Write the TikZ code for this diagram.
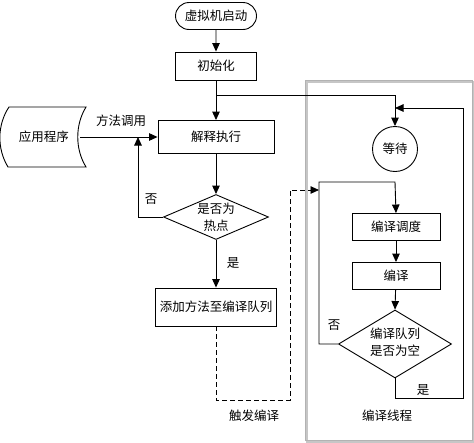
\documentclass[tikz,border=0pt]{standalone}
\usepackage{fontspec}
\newfontfamily\cjk{Noto Sans CJK SC}
\usetikzlibrary{arrows.meta,shapes.geometric,shapes.misc}
\begin{document}
\begin{tikzpicture}[x=1pt,y=-1pt,
  every node/.style={font=\cjk\fontsize{12.5}{17}\selectfont, inner sep=0pt},
  ln/.style={line width=0.9pt, black},
  arr/.style={ln, -{Triangle[length=8.5pt,width=7.5pt]}},
  boxx/.style={draw, ln, rectangle, minimum height=28pt, align=center}]
\useasboundingbox (0,0) rectangle (474,442);
% thread frame
\draw[gray!45, line width=2pt] (307,82) rectangle (474,442);
\draw[gray!60, line width=0.9pt] (305,80) rectangle (472,440);
% nodes
\node[draw, ln, rounded rectangle, minimum width=81pt, minimum height=27pt] (start) at (216,16) {虚拟机启动};
\node[boxx, minimum width=81pt] (init) at (216,66) {初始化};
\node[boxx, minimum width=116pt, minimum height=33pt] (interp) at (216,137) {解释执行};
\node[minimum width=72pt, minimum height=60pt] (app) at (44,137) {应用程序};
\draw[ln] (9,107) -- (86,107) .. controls (75,125) and (75,149) .. (86,167) -- (8,167) .. controls (-3,149) and (-3,125) .. (9,107) -- cycle;
\node[draw, ln, minimum width=105pt, minimum height=45pt, shape=diamond, shape aspect=2.33] (hot) at (216,217) {};
\node[align=center] (hottxt) at (216,217) {是否为\\热点};
\node[boxx, minimum width=121pt, minimum height=38pt] (add) at (216,307) {添加方法至编译队列};
\node[draw, ln, circle, minimum size=45pt] (wait) at (395,149) {等待};
\node[boxx, minimum width=88pt, minimum height=27pt] (sched) at (396,227) {编译调度};
\node[boxx, minimum width=88pt, minimum height=27pt] (comp) at (396,276) {编译};
\node[draw, ln, minimum width=113pt, minimum height=68pt, shape=diamond, shape aspect=1.66] (q) at (395,344) {};
\node[align=center] (qtxt) at (395,342) {编译队列\\是否为空};
% labels
\node (l1) at (121,121) {方法调用};
\node (l2) at (151,199) {否};
\node (l3) at (233,263) {是};
\node (l4) at (254,416) {触发编译};
\node (l5) at (387,416) {编译线程};
\node (l6) at (334,325) {否};
\node (l7) at (423,390) {是};
% coordinates
\coordinate (b1) at (216,95);
\coordinate (n1) at (138,217);
\coordinate (d1) at (216,400);
\coordinate (d2) at (290,400);
\coordinate (d3) at (290,190);
\coordinate (d4) at (319,190);
\coordinate (f1) at (319,344);
\coordinate (f2) at (319,182);
\coordinate (f3) at (395,182);
\coordinate (y1) at (395,398);
\coordinate (y2) at (463,398);
\coordinate (y3) at (463,108);
\coordinate (y4) at (395,108);
% connectors
\draw[arr] (start) -- (init);
\draw[arr] (init) -- (interp);
\draw[arr] (b1) -| (wait.north);
\draw[arr] (app.east) -- (interp.west);
\draw[arr] (interp) -- (hot.north);
\draw[arr] (hot.west) -- (n1) -- (n1 |- interp.west);
\draw[arr] (hot.south) -- (add.north);
\draw[arr, dashed, dash pattern=on 5pt off 3pt] (add.south) -- (d1) -- (d2) -- (d3) -- (d4);
\draw[arr] (q.west) -- (f1) -- (f2) -- (f3) -- (sched.north);
\draw[arr] (sched) -- (comp);
\draw[arr] (comp) -- (q.north);
\draw[arr] (q.south) -- (y1) -- (y2) -- (y3) -- (y4);
\end{tikzpicture}
\end{document}
